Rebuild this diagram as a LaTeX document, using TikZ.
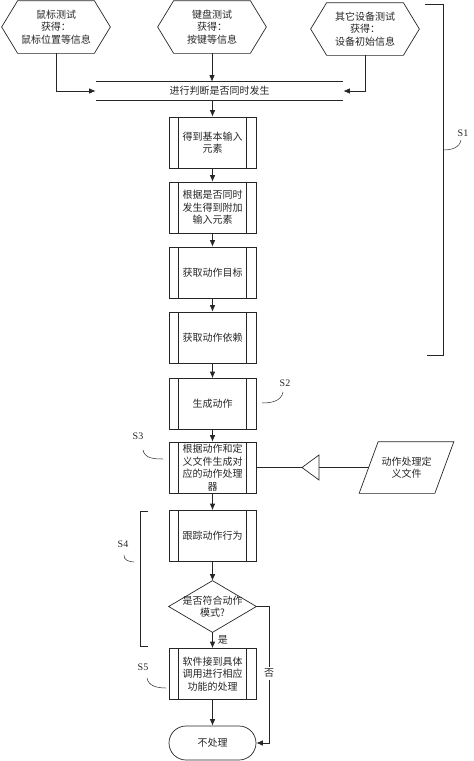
\documentclass[tikz,border=0pt]{standalone}
\usepackage{fontspec}
\setmainfont{Liberation Serif}
\newfontfamily\cjk{Noto Sans CJK SC}
\usetikzlibrary{arrows.meta,shapes.misc,calc}
\begin{document}
\begin{tikzpicture}[x=1pt,y=-1pt,
  line width=0.7pt, draw=black!85,
  every node/.style={font=\cjk\fontsize{10}{12.5}\selectfont, align=center, inner sep=0pt, text=black!85},
  proc/.style={draw, minimum width=87, minimum height=51},
  hexn/.style={minimum width=108, minimum height=52},
  flow/.style={-{Latex[length=6.5pt,width=5.5pt]}},
  slabel/.style={font=\fontsize{10}{12}\selectfont},
  callout/.style={line width=0.5pt}]
\useasboundingbox (0,0) rectangle (474,761);

% hexagons
\node[hexn] (h1) at (56,27) {鼠标测试\\获得：\\鼠标位置等信息};
\node[hexn] (h2) at (212,27) {键盘测试\\获得：\\按键等信息};
\node[hexn] (h3) at (365,29) {其它设备测试\\获得：\\设备初始信息};
\foreach \h in {h1,h2,h3}
  \draw (\h.west) -- ([xshift=16pt]\h.north west) -- ([xshift=-16pt]\h.north east)
        -- (\h.east) -- ([xshift=-16pt]\h.south east) -- ([xshift=16pt]\h.south west) -- cycle;

% band
\node[minimum width=247, minimum height=18] (band) at (219.5,91) {进行判断是否同时发生};
\draw (band.north west) -- (band.north east);
\draw (band.south west) -- (band.south east);

% process boxes
\node[proc] (b1) at (212.5,142.5) {得到基本输入\\元素};
\node[proc] (b2) at (212.5,207.5) {根据是否同时\\发生得到附加\\输入元素};
\node[proc] (b3) at (212.5,272.5) {获取动作目标};
\node[proc] (b4) at (212.5,337.5) {获取动作依赖};
\node[proc] (b5) at (212.5,404) {生成动作};
\node[proc] (b6) at (212.5,467.5) {根据动作和定\\义文件生成对\\应的动作处理\\器};
\node[proc] (b7) at (212.5,536) {跟踪动作行为};
\node[minimum width=87, minimum height=51] (d) at (212.5,606.5) {是否符合动作\\模式?};
\draw (d.north) -- (d.east) -- (d.south) -- (d.west) -- cycle;
\node[proc] (b8) at (212.5,674) {软件接到具体\\调用进行相应\\功能的处理};
\node[draw, rounded rectangle, minimum width=87, minimum height=34] (t) at (212.5,743) {不处理};
\foreach \b in {b1,b2,b3,b4,b5,b6,b7,b8} {
  \draw ([xshift=10pt]\b.north west) -- ([xshift=10pt]\b.south west);
  \draw ([xshift=-10pt]\b.north east) -- ([xshift=-10pt]\b.south east);
}

% parallelogram
\node[minimum width=94, minimum height=51] (pf) at (406.5,467.5) {动作处理定\\义文件};
\draw ([xshift=19pt]pf.north west) -- (pf.north east) -- ([xshift=-19pt]pf.south east) -- (pf.south west) -- cycle;
\coordinate (pfl) at ($(pf.west)+(9.5pt,0)$);
\coordinate (tri) at (302,467.5);
\draw (pfl) -- (b6.east);
\draw[fill=white] (tri) -- (319,455) -- (319,480) -- cycle;

% arrows
\draw[flow] (h1.south) |- (band.west);
\draw[flow] (h2.south) -- (h2.south |- band.north);
\draw[flow] (h3.south) |- (band.east);
\draw[flow] (b1.north |- band.south) -- (b1.north);
\draw[flow] (b1) -- (b2);
\draw[flow] (b2) -- (b3);
\draw[flow] (b3) -- (b4);
\draw[flow] (b4) -- (b5);
\draw[flow] (b5) -- (b6);
\draw[flow] (b6) -- (b7);
\draw[flow] (b7) -- (d.north);
\draw[flow] (d.south) -- node[pos=0.45, right=5pt] {是} (b8);
\draw[flow] (b8) -- (t);
\coordinate (nr) at (269,606.5);
\draw[flow] (d.east) -- (nr) -- node[pos=0.49, fill=white, inner ysep=2pt] {否} (nr |- t.east) -- (t.east);

% brackets
\coordinate (s1a) at (425,4);
\coordinate (s1b) at (443,4);
\coordinate (s1c) at (443,355);
\coordinate (s1d) at (427,355);
\draw (s1a) -- (s1b) -- (s1c) -- (s1d);
\node[slabel] (s1) at (463,133) {S1};
\draw[callout] (443,150) to[out=0, in=-100] (461,140);

\coordinate (s4a) at (148,511);
\coordinate (s4b) at (140,511);
\coordinate (s4c) at (140,646);
\coordinate (s4d) at (148,646);
\draw (s4a) -- (s4b) -- (s4c) -- (s4d);
\node[slabel] (s4) at (123,544) {S4};
\draw[callout] (124,555) to[out=-100, in=180] (134,562);

% step labels
\node[slabel] (s2) at (285,383) {S2};
\draw[callout] (262,403) to[out=0, in=-100] (283,392);
\node[slabel] (s3) at (138,436) {S3};
\draw[callout] (143,450) to[out=-80, in=180] (163,459);
\node[slabel] (s5) at (143,667) {S5};
\draw[callout] (147,678) to[out=-80, in=180] (166,688);
\end{tikzpicture}
\end{document}
